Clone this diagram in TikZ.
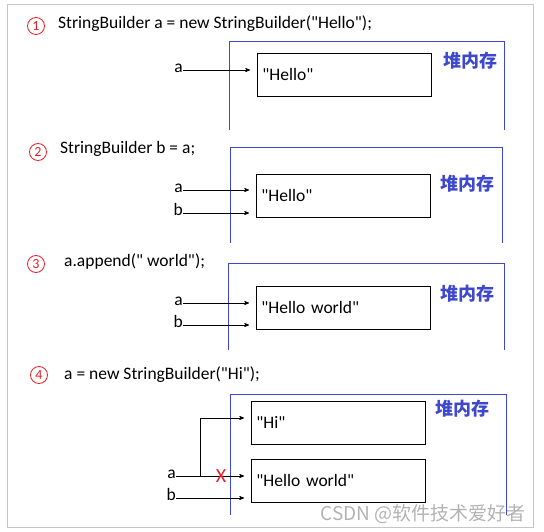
\documentclass[tikz,border=0pt]{standalone}
\usepackage{fontspec}
\setmainfont{Carlito}
\newfontfamily\cjk{Noto Sans CJK SC}
\usetikzlibrary{arrows,positioning}
\definecolor{heapblue}{RGB}{62,72,204}
\definecolor{stepred}{RGB}{232,32,40}
\newcommand{\qq}{\textquotedbl}
\tikzset{step num/.style={circle,draw=stepred,text=stepred,line width=0.8pt,minimum size=17pt,inner sep=0pt,font=\fontsize{14}{14}\selectfont},
         code line/.style={anchor=west,inner sep=0pt,font=\fontsize{17.5}{19}\selectfont},
         heap frame/.style={draw=heapblue,line width=0.8pt},
         heap label/.style={text=heapblue,inner sep=0pt,font=\cjk\bfseries\fontsize{18}{18}\selectfont},
         heap obj/.style={rectangle,draw,line width=0.9pt,anchor=north west,minimum height=43pt,text width=164pt,align=left,inner sep=5pt,font=\fontsize{17.5}{19}\selectfont},
         var name/.style={anchor=east,inner sep=0pt,text height=1.2ex,text depth=0pt,font=\fontsize{17.5}{19}\selectfont},
         ptr/.style={->,line width=0.7pt,shorten >=7pt},
}

\begin{document}
\begin{tikzpicture}[>=stealth', x=1pt, y=-1pt]
\useasboundingbox (0,0) rectangle (544,532);
\draw[gray!45,line width=1pt] (7.5,5) rectangle (533,527);
% \draw[help lines,step=20] (0,0) grid (544,532);

% step 1
\node[step num] (s1) at (36,26) {1};
\node[code line] (c1) at (58,24) {StringBuilder a = new StringBuilder(\qq Hello\qq);};
\draw[heap frame] (229,130) -- (229,41) -- (504,41) -- (504,130);
\node[heap label] (m1) at (470,61) {堆内存};
\node[heap obj] (h1) at (257,53) {\qq Hello\qq};
\node[var name] (a1) at (183,70) {a};
\draw[ptr] (a1.east) -- (a1.east -| h1.west);

% step 2
\node[step num] (s2) at (38,152) {2};
\node[code line] (c2) at (60,149) {StringBuilder b = a;};
\draw[heap frame] (230,243) -- (230,147) -- (502,147) -- (502,243);
\node[heap label] (m2) at (467,184) {堆内存};
\node[heap obj] (h2) at (256,174) {\qq Hello\qq};
\node[var name] (a2) at (183,190) {a};
\node[var name] (b2) at (183,213) {b};
\draw[ptr] (a2.east) -- (a2.east -| h2.west);
\draw[ptr] (b2.east) -- (b2.east -| h2.west);

% step 3
\node[step num] (s3) at (36,264) {3};
\node[code line] (c3) at (64,262) {a.append(\qq{} world\qq);};
\draw[heap frame] (228,350) -- (228,263) -- (504,263) -- (504,350);
\node[heap label] (m3) at (467,294) {堆内存};
\node[heap obj] (h3) at (256,286) {\qq Hello world\qq};
\node[var name] (a3) at (183,303) {a};
\node[var name] (b3) at (183,325) {b};
\draw[ptr] (a3.east) -- (a3.east -| h3.west);
\draw[ptr] (b3.east) -- (b3.east -| h3.west);

% step 4
\node[step num] (s4) at (39,375) {4};
\node[code line] (c4) at (64,375) {a = new StringBuilder(\qq Hi\qq);};
\draw[heap frame] (230,515) -- (230,394) -- (506,394) -- (506,515);
\node[heap label] (m4) at (462,409) {堆内存};
\node[heap obj] (hi4) at (251,401) {\qq Hi\qq};
\node[heap obj] (hw4) at (251,459) {\qq Hello world\qq};
\node[var name] (a4) at (176,476) {a};
\node[var name] (b4) at (176,498) {b};
\coordinate (br) at (200,476);
\draw[ptr] (a4.east) -- (a4.east -| hw4.west);
\draw[ptr] (b4.east) -- (b4.east -| hw4.west);
\draw[ptr] (br) |- ([yshift=5pt]hi4.west);
\node[text=stepred,inner sep=0pt,font=\fontsize{20}{20}\selectfont] (x4) at (221,476) {X};

\node[text=gray!60,inner sep=0pt,font=\cjk\fontsize{19}{19}\selectfont] (wm) at (423,514) {CSDN @软件技术爱好者};
\end{tikzpicture}
\end{document}
